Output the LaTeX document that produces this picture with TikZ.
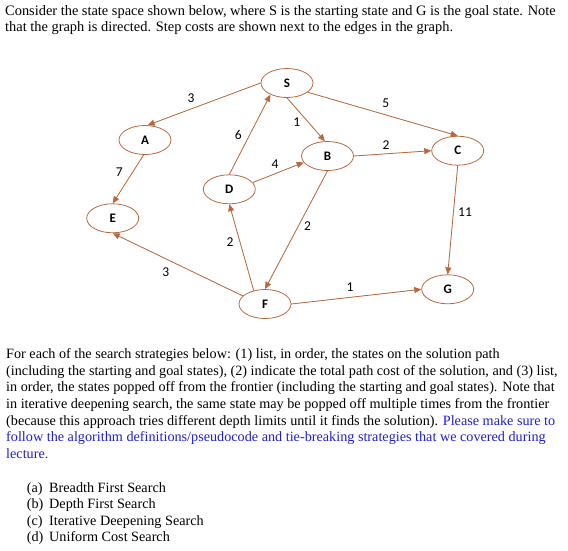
\documentclass[tikz,border=0pt]{standalone}
\usepackage{fontspec}
\setmainfont{Liberation Serif}
\newfontfamily\calib{Carlito}
\usetikzlibrary{arrows.meta, shapes.geometric}
\definecolor{edgebrown}{RGB}{184,104,62}
\definecolor{noteblue}{RGB}{30,30,215}

\begin{document}
\begin{tikzpicture}[x=1pt, y=-1pt, >={Triangle[length=7pt,width=6pt]},
    state/.style={ellipse, draw=edgebrown, line width=0.8pt, minimum width=52pt, minimum height=29pt, inner sep=0pt, font=\calib\fontsize{13}{15}\selectfont\bfseries},
    cost/.style={inner sep=0pt, font=\calib\fontsize{13.5}{15}\selectfont},
    edge/.style={->, draw=edgebrown, fill=edgebrown, line width=0.8pt},
    para/.style={anchor=north west, inner sep=0pt, align=left, font=\fontsize{14.2}{16.6}\selectfont}]
    \useasboundingbox (0,0) rectangle (568,550);
    % question text
    \node[para, font=\fontsize{14.4}{16}\selectfont] (intro) at (5,3.8) {\strut Consider the state space shown below, where S is the starting state and G is the goal state. Note\\
        that the graph is directed. Step costs are shown next to the edges in the graph.};
    % the states
    \node[state] (S) at (287,83) {S};
    \node[state] (A) at (145,140) {A};
    \node[state] (B) at (327.5,156) {B};
    \node[state] (C) at (457.7,150.7) {C};
    \node[state] (D) at (229.3,189.3) {D};
    \node[state] (E) at (112.7,218.3) {E};
    \node[state] (F) at (265,304) {F};
    \node[state] (G) at (447.7,289.3) {G};
    % directed edges
    \draw[edge] (S.west) -- (A.80);
    \draw[edge] (S.south) -- (B.100);
    \draw[edge] (S.-24) -- (C.north);
    \draw[edge] (D.north) -- (S.-145);
    \draw[edge] (D.16) -- (B.195);
    \draw[edge] (A.-95) -- (E.north);
    \draw[edge] (B.south) -- (F.north);
    \draw[edge] (B.east) -- (C.west);
    \draw[edge] (C.south) -- (G.north);
    \draw[edge] (F.130) -- (D.south);
    \draw[edge] (F.160) -- (E.south);
    \draw[edge] (F.east) -- (G.west);
    % step costs
    \node[cost] (cSA) at (191,97.7) {3};
    \node[cost] (cSB) at (296.7,121.7) {1};
    \node[cost] (cSC) at (385.7,103.3) {5};
    \node[cost] (cDS) at (238.3,135) {6};
    \node[cost] (cDB) at (275,164.3) {4};
    \node[cost] (cAE) at (119.3,172.3) {7};
    \node[cost] (cBF) at (307.5,226.3) {2};
    \node[cost] (cBC) at (386,145) {2};
    \node[cost] (cCG) at (465,211.7) {11};
    \node[cost] (cFD) at (230,241.7) {2};
    \node[cost] (cFE) at (165.7,272.3) {3};
    \node[cost] (cFG) at (350,287.3) {1};
    \node[para] (task) at (6,346.8) {\strut For each of the search strategies below: (1) list, in order, the states on the solution path\\
        (including the starting and goal states), (2) indicate the total path cost of the solution, and (3) list,\\
        in order, the states popped off from the frontier (including the starting and goal states). Note that\\
        in iterative deepening search, the same state may be popped off multiple times from the frontier\\
        (because this approach tries different depth limits until it finds the solution). \textcolor{noteblue}{Please make sure to}\\
        \textcolor{noteblue}{follow the algorithm definitions/pseudocode and tie-breaking strategies that we covered during}\\
        \textcolor{noteblue}{lecture.}};
    \foreach \lab/\txt [count=\i] in {a/Breadth First Search, b/Depth First Search, c/Iterative Deepening Search, d/Uniform Cost Search}{
        \node[anchor=base west, inner sep=0pt, font=\fontsize{14.2}{16.6}\selectfont] (item\lab) at (26.7,492.5+16.3*\i-16.3) {(\lab)};
        \node[anchor=base west, inner sep=0pt, font=\fontsize{14.2}{16.6}\selectfont] (name\lab) at (49,492.5+16.3*\i-16.3) {\txt};
    }
\end{tikzpicture}
\end{document}
